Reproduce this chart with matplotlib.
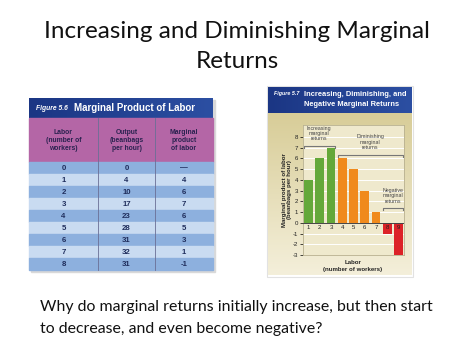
import matplotlib
matplotlib.use('Agg')
import matplotlib.pyplot as plt
import numpy as np
from matplotlib.patches import Rectangle

# table data (Figure 5.6)
labor = [0, 1, 2, 3, 4, 5, 6, 7, 8]
output = [0, 4, 10, 17, 23, 28, 31, 32, 31]
marginal = ['\u2014', '4', '6', '7', '6', '5', '3', '1', '-1']
col_heads = ['Labor\n(number of\nworkers)', 'Output\n(beanbags\nper hour)', 'Marginal\nproduct\nof labor']

# bar chart data (Figure 5.7)
workers = [1, 2, 3, 4, 5, 6, 7, 8, 9]
mp_values = [4, 6, 7, 6, 5, 3, 1, -1, -3]
phase = ['inc', 'inc', 'inc', 'dim', 'dim', 'dim', 'dim', 'neg', 'neg']
phase_colors = {'inc': '#64a83a', 'dim': '#f08a1c', 'neg': '#dc2228'}
y_ticks = list(range(-3, 9))

W, H = 474, 355
fig = plt.figure(figsize=(W / 100, H / 100), dpi=100)
fig.patch.set_facecolor('white')

narrow = 'Liberation Sans'

# background axes in pixel units for the slide layout
bg = fig.add_axes([0, 0, 1, 1])
bg.set_xlim(0, W)
bg.set_ylim(H, 0)
bg.axis('off')

font = 'Lato'
bg.text(237, 31, 'Increasing and Diminishing Marginal', ha='center', va='center',
        fontsize=17.5, family=font, color='#111111')
bg.text(237, 61, 'Returns', ha='center', va='center', fontsize=17.5, family=font, color='#111111')
bg.text(40, 307, 'Why do marginal returns initially increase, but then start', ha='left',
        va='center', fontsize=11.4, family=font, color='#111111')
bg.text(40, 329, 'to decrease, and even become negative?', ha='left', va='center',
        fontsize=11.4, family=font, color='#111111')

# ---- table panel ----
tx0, tx1 = 29, 213
cols = [29, 98, 155, 213]
blue = matplotlib.colors.LinearSegmentedColormap.from_list('b', ['#1b3684', '#2c4fa2'])
grad = np.linspace(0, 1, 64).reshape(1, -1)
bg.add_patch(Rectangle((tx0 + 2, 100), tx1 - tx0, 172, color='#d9d9d9', zorder=0))
bg.imshow(grad, extent=(tx0, tx1, 118, 98), cmap=blue, aspect='auto', zorder=1)
bg.text(tx0 + 7, 108, 'Figure 5.6', fontsize=4.9, style='italic', fontweight='bold',
        color='white', va='center', family=narrow, zorder=3)
bg.text(tx0 + 45, 108, 'Marginal Product of Labor', fontsize=7, fontweight='bold',
        color='white', va='center', family=narrow, zorder=3)
bg.add_patch(Rectangle((tx0, 118), tx1 - tx0, 44, color='#b466a6', zorder=1))
for i, h in enumerate(col_heads):
    bg.text((cols[i] + cols[i + 1]) / 2, 140, h, ha='center', va='center', fontsize=4.9,
            fontweight='bold', color='#2a2250', linespacing=1.2, family=narrow, zorder=3)
row_h = 12.0
for r in range(len(labor)):
    y0 = 162 + r * row_h
    bg.add_patch(Rectangle((tx0, y0), tx1 - tx0, row_h,
                           color='#8db0de' if r % 2 == 0 else '#c9dbf1', zorder=1))
    vals = [str(labor[r]), str(output[r]), marginal[r]]
    for i, v in enumerate(vals):
        bg.text((cols[i] + cols[i + 1]) / 2, y0 + row_h / 2, v, ha='center', va='center',
                fontsize=5.6, fontweight='bold', color='#1f2d5c', family=narrow, zorder=3)
for cx in cols[1:3]:
    bg.plot([cx, cx], [118, 162 + 9 * row_h], color='#6a6f96', lw=0.6, zorder=2)

# ---- chart panel ----
bg.add_patch(Rectangle((267, 86), 146, 191, facecolor='white', edgecolor='#e2e2e2', lw=0.8, zorder=0))
bg.imshow(grad, extent=(268, 412, 113, 87), cmap=blue, aspect='auto', zorder=1)
bg.imshow(np.linspace(0, 1, 64).reshape(-1, 1), extent=(268, 412, 275, 113),
          cmap=matplotlib.colors.LinearSegmentedColormap.from_list('t', ['#d8cd98', '#f4efda']),
          aspect='auto', zorder=1)
bg.text(274, 94, 'Figure 5.7', fontsize=3.9, style='italic', fontweight='bold', color='white',
        va='center', family=narrow, zorder=3)
bg.text(304, 94, 'Increasing, Diminishing, and', fontsize=5.4, fontweight='bold', color='white',
        va='center', family=narrow, zorder=3)
bg.text(304, 104, 'Negative Marginal Returns', fontsize=5.4, fontweight='bold', color='white',
        va='center', family=narrow, zorder=3)
bg.text(287, 190, 'Marginal product of labor\n(beanbags per hour)', rotation=90, ha='center',
        va='center', fontsize=4.4, fontweight='bold', color='#222222', linespacing=1.15,
        family=narrow, zorder=3)
bg.text(353, 266, 'Labor\n(number of workers)', ha='center', va='center', fontsize=4.4,
        fontweight='bold', color='#222222', linespacing=1.25, family=narrow, zorder=3)

ax = fig.add_axes([303 / W, 1 - 255 / H, 101 / W, 130 / H])
ax.set_facecolor('#efe9cd')
ax.set_xlim(0.5, 9.5)
ax.set_ylim(-3, 9.1)
for yv in y_ticks:
    ax.axhline(yv, color='white', lw=0.7, zorder=1)
ax.bar(workers, mp_values, width=0.78, color=[phase_colors[p] for p in phase], zorder=2)
ax.axhline(0, color='#444444', lw=0.7, zorder=3)
for x in workers:
    ax.text(x, -0.4, str(x), ha='center', va='center', fontsize=4.4, color='#222222',
            family=narrow, zorder=4)
ax.set_yticks(y_ticks)
ax.set_yticklabels([str(v) for v in y_ticks], fontsize=4.4, color='#222222', family=narrow)
ax.tick_params(axis='y', length=2, width=0.5, pad=1.5)
ax.set_xticks([])
for s in ['top', 'right', 'left', 'bottom']:
    ax.spines[s].set_color('#b8b090')
    ax.spines[s].set_linewidth(0.6)

# phase brackets
def bracket(x0, x1, y, label, lx, ly):
    ax.plot([x0, x0, x1, x1], [y - 0.2, y, y, y - 0.2], color='#777777', lw=0.8, zorder=3)
    ax.text(lx, ly, label, ha='center', va='center', fontsize=3.8, color='#444444',
            linespacing=1.05, family=narrow, zorder=4)

bracket(0.61, 3.39, 7.15, 'Increasing\nmarginal\nreturns', 1.9, 8.3)
bracket(3.61, 9.39, 6.35, 'Diminishing\nmarginal\nreturns', 6.5, 7.5)
bracket(7.61, 9.39, 1.35, 'Negative\nmarginal\nreturns', 8.5, 2.5)

fig.savefig('out.png', dpi=100)
